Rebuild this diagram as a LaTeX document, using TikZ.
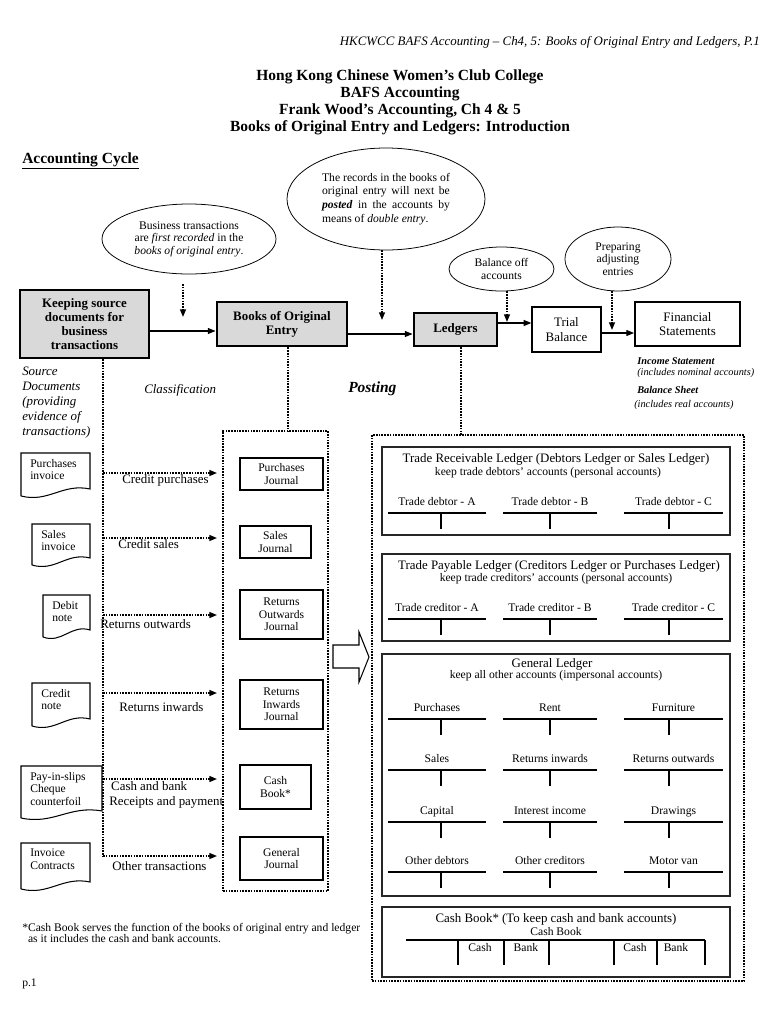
\documentclass[tikz,border=0pt]{standalone}
\usepackage{fontspec}
\setmainfont{Liberation Serif}
\usetikzlibrary{shapes.geometric,arrows.meta,positioning}

\newdimen\pxu
\pxu=0.775pt

\tikzset{
  sz/.style 2 args={minimum width=#1*\pxu, minimum height=#2*\pxu},
  heavybox/.style={draw, line width=2.2pt, fill=black!15, align=center, inner sep=0pt, font=\fontsize{10}{11}\selectfont\bfseries},
  thinbox/.style={draw, line width=0.9pt, align=center, inner sep=0pt, font=\fontsize{9}{9.6}\selectfont},
  ledgerbox/.style={draw=black!85, line width=1pt, inner sep=0pt},
  bubble/.style={draw, ellipse, line width=0.6pt, inner sep=0pt, align=center, font=\fontsize{9}{9.7}\selectfont},
  dotline/.style={line width=1.25pt, dash pattern=on 1.25pt off 0.9pt},
  dotbox/.style={dotline, draw, inner sep=0pt},
  arr/.style={line width=0.9pt, -{Triangle[length=6pt,width=4.6pt]}},
  darr/.style={dotline, -{Triangle[length=6pt,width=4.6pt]}},
  lab/.style={inner sep=0pt, font=\fontsize{10}{11}\selectfont},
  tlab/.style={inner sep=0pt, anchor=base, font=\fontsize{9}{10}\selectfont},
  note/.style={anchor=west, inner sep=0pt, font=\fontsize{8}{9}\selectfont\itshape},
  tline/.style={line width=0.9pt}
}

\begin{document}
\begin{tikzpicture}[x=0.775pt, y=-0.775pt]
\useasboundingbox[fill=white] (0,0) rectangle (768,1024);

\node (hdr) at (760,42) [anchor=east, inner sep=0pt, font=\fontsize{10}{12}\selectfont\itshape] {HKCWCC BAFS Accounting -- Ch4, 5: Books of Original Entry and Ledgers, P.1};
\node (ttl) at (400,102.5) [align=center, inner sep=0pt, font=\fontsize{12}{13.2}\selectfont\bfseries] {Hong Kong Chinese Women's Club College\\BAFS Accounting\\Frank Wood's Accounting, Ch 4 \& 5\\Books of Original Entry and Ledgers: Introduction};
\node (cyc) at (22,161) [anchor=west, inner sep=0pt, font=\fontsize{12}{14}\selectfont\bfseries] {\underline{Accounting Cycle}};

\node (e1) at (189,239) [bubble, sz={174}{70}] {Business transactions\\are \textit{first recorded} in the\\\textit{books of original entry}.};
\node (e2) at (386,199) [bubble, sz={198}{102}, align=left, font=\fontsize{9}{10.6}\selectfont] {\makebox[99pt][s]{The records in the books of}\\\makebox[99pt][s]{original entry will next be}\\\makebox[99pt][s]{\textbf{\textit{posted}} in the accounts by}\\means of \textit{double entry}.};
\node (e3) at (501.5,269) [bubble, sz={105}{44}] {Balance off\\accounts};
\node (e4) at (618,259) [bubble, sz={106}{64}] {Preparing\\adjusting\\entries};

\node (src) at (84.5,324) [heavybox, sz={129}{68}] {Keeping source\\documents for\\business\\transactions};
\node (boe) at (282,324) [heavybox, sz={130}{44}] {Books of Original\\Entry};
\node (led) at (455.5,329.5) [heavybox, sz={83}{33}] {Ledgers};
\node (tb) at (566.5,329.5) [thinbox, sz={69}{45}, font=\fontsize{10}{11}\selectfont] {Trial\\Balance};
\node (fs) at (687.5,324) [thinbox, sz={105}{44}, line width=1.4pt, font=\fontsize{10}{11}\selectfont] {Financial\\Statements};

\draw[arr] (src.east |- 0,331) -- (boe.west |- 0,331);
\draw[arr] (boe.east |- 0,334) -- (led.west |- 0,334);
\draw[arr] (led.east |- 0,323) -- (tb.west |- 0,323);
\draw[arr] (tb.east |- 0,333) -- (fs.west |- 0,333);

\coordinate (q1) at (183,284);
\coordinate (p1) at (183,317);
\coordinate (p2) at (382,320);
\coordinate (p3) at (507,322);
\coordinate (p4) at (612,330);
\draw[darr] (q1) -- (p1);
\draw[darr] (e2.south -| p2) -- (p2);
\draw[darr] (e3.south -| p3) -- (p3);
\draw[darr] (e4.south -| p4) -- (p4);

\node (n1) at (637,361) [note, font=\fontsize{8}{9}\selectfont\bfseries\itshape] {Income Statement};
\node (n2) at (637,373) [note] {(includes nominal accounts)};
\node (n3) at (637,390) [note, font=\fontsize{8}{9}\selectfont\bfseries\itshape] {Balance Sheet};
\node (n4) at (634,405) [note] {(includes real accounts)};

\node (sd) at (22,367) [anchor=north west, inner sep=0pt, align=left, font=\fontsize{10}{11.6}\selectfont\itshape] {Source\\Documents\\(providing\\evidence of\\transactions)};
\node (cls) at (144,390) [anchor=west, inner sep=0pt, font=\fontsize{10}{11}\selectfont\itshape] {Classification};
\node (pst) at (348,389) [anchor=west, inner sep=0pt, font=\fontsize{12}{14}\selectfont\bfseries\itshape] {Posting};

\node (jbox) at (275.5,661) [dotbox, sz={105}{460}] {};
\node (lbox) at (558,708) [dotbox, sz={372}{546}] {};
\coordinate (vb) at (103,857);
\coordinate (jt) at (288,431);
\coordinate (lt) at (461,435);
\draw[dotline] (src.south -| vb) -- (vb);
\draw[dotline] (boe.south -| jt) -- (jt);
\draw[dotline] (led.south -| lt) -- (lt);

\foreach \y [count=\i] in {473,538,615,693,779,856} {
  \coordinate (v\i) at (103,\y);
  \draw[darr, shorten >=4pt] (v\i) -- (v\i -| jbox.west);
}

\node (pj) at (281.5,474) [thinbox, sz={83}{32}] {Purchases\\Journal};
\node (sj) at (275.5,542) [thinbox, sz={71}{32}] {Sales\\Journal};
\node (roj) at (281.5,614.5) [thinbox, sz={83}{49}] {Returns\\Outwards\\Journal};
\node (rij) at (281.5,704.5) [thinbox, sz={83}{49}] {Returns\\Inwards\\Journal};
\node (cbj) at (275.5,787) [thinbox, sz={71}{44}] {Cash\\Book*};
\node (gj) at (281.5,858.5) [thinbox, sz={83}{43}] {General\\Journal};

\node (l1) at (122,480) [lab, anchor=west] {Credit purchases};
\node (l2) at (118,544) [lab, anchor=west] {Credit sales};
\node (l3) at (100,624) [lab, anchor=west] {Returns outwards};
\node (l4) at (119,707) [lab, anchor=west] {Returns inwards};
\node (l5) at (109,795) [lab, anchor=west, align=left] {\hspace{1.5pt}Cash and bank\\Receipts and payment};
\node (l6) at (112,866) [lab, anchor=west] {Other transactions};

\foreach \xl/\yt/\xr/\yb/\txt [count=\i] in {21/453/90/489/Purchases\\invoice, 32/524/90/558/Sales\\invoice, 43/595/90/630/Debit\\note, 32/683/90/719/Credit\\note, 21/766/102/811/Pay-in-slips\\Cheque\\counterfoil, 21/843/90/882/Invoice\\Contracts} {
  \draw[line width=0.8pt] (\xl,\yb+7) -- (\xl,\yt) -- (\xr,\yt) -- (\xr,\yb)
    .. controls ({\xr-0.4*(\xr-\xl)},\yb-6) and ({\xl+0.4*(\xr-\xl)},\yb+14) .. (\xl,\yb+7);
  \node (d\i) at (\xl+9,\yt+6) [anchor=north west, inner sep=0pt, align=left, font=\fontsize{9}{9.6}\selectfont] {\txt};
}

\draw[line width=0.8pt, fill=white] (333,645) -- (359,645) -- (359,632) -- (369,657) -- (359,682) -- (359,668) -- (333,668) -- cycle;

\node (trl) at (556,491) [ledgerbox, sz={348}{88}] {};
\node (tpl) at (556,597.5) [ledgerbox, sz={348}{87}] {};
\node (gl) at (556,775) [ledgerbox, sz={348}{242}] {};
\node (cbl) at (556,942) [ledgerbox, sz={348}{70}] {};

\node (trt) at (556,459) [lab] {Trade Receivable Ledger (Debtors Ledger or Sales Ledger)};
\node (trs) at (548,473) [tlab, anchor=center] {keep trade debtors' accounts (personal accounts)};
\node (tpt) at (559,566) [lab] {Trade Payable Ledger (Creditors Ledger or Purchases Ledger)};
\node (tps) at (556,579) [tlab, anchor=center] {keep trade creditors' accounts (personal accounts)};
\node (glt) at (552,664) [lab] {General Ledger};
\node (gls) at (556,676) [tlab, anchor=center] {keep all other accounts (impersonal accounts)};
\node (cbt) at (556,919) [lab] {Cash Book* (To keep cash and bank accounts)};
\node (cbs) at (556,932) [tlab, anchor=center] {Cash Book};

\foreach \ly/\acA/\acB/\acC [count=\i] in {513/Trade debtor - A/Trade debtor - B/Trade debtor - C, 619/Trade creditor - A/Trade creditor - B/Trade creditor - C, 719/Purchases/Rent/Furniture, 770/Sales/Returns inwards/Returns outwards, 822/Capital/Interest income/Drawings, 872/Other debtors/Other creditors/Motor van} {
  \draw[tline] (388,\ly) -- (486,\ly) (441,\ly) -- ++(0,16)
               (503,\ly) -- (597,\ly) (550,\ly) -- ++(0,16)
               (624,\ly) -- (723,\ly) (669,\ly) -- ++(0,16);
  \node (a\i) at (437,\ly-7.5) [tlab] {\acA};
  \node (b\i) at (550,\ly-7.5) [tlab] {\acB};
  \node (c\i) at (673.5,\ly-7.5) [tlab] {\acC};
}

\draw[tline] (406,940) -- (705,940);
\foreach \x in {458,504,549,614,657,705} \draw[tline] (\x,940) -- (\x,965);
\node (k1) at (480,951) [tlab] {Cash};
\node (k2) at (526,951) [tlab] {Bank};
\node (k3) at (635,951) [tlab] {Cash};
\node (k4) at (676,951) [tlab] {Bank};

\node (fn) at (22,932.5) [anchor=west, align=left, inner sep=0pt, font=\fontsize{9}{8.5}\selectfont] {*Cash Book serves the function of the books of original entry and ledger\\\phantom{*}as it includes the cash and bank accounts.};
\node (pg) at (22,984) [anchor=west, inner sep=0pt, font=\fontsize{9}{10}\selectfont] {p.1};
\end{tikzpicture}
\end{document}
